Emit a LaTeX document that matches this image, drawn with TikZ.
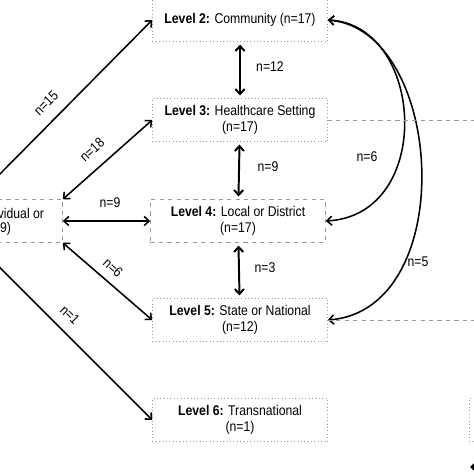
\documentclass[tikz,border=0pt]{standalone}
\usepackage{fontspec}
\setmainfont{Liberation Sans}[FakeStretch=0.87]
\usetikzlibrary{arrows.meta}

\begin{document}
\begin{tikzpicture}[x=0.025cm, y=-0.025cm,
    box/.style={rectangle, minimum width=4.375cm, minimum height=1.075cm, align=center, inner sep=1pt, font=\fontsize{10}{11.5}\selectfont},
    dotbox/.style={box, draw=gray!80, dotted},
    dashbox/.style={box, draw=gray!80, dashed},
    lab/.style={font=\fontsize{10}{11.5}\selectfont},
    arrow/.style={{Straight Barb[length=3.5pt,width=6.5pt]}-{Straight Barb[length=3.5pt,width=6.5pt]}, line width=1.1pt},
    oneway/.style={-{Straight Barb[length=3.5pt,width=6.5pt]}, line width=1.1pt},
    link/.style={dashed, draw=gray!80, line width=0.6pt}
]
\useasboundingbox (0,0) rectangle (474,474);

% Levels
\node[dotbox] (l2) at (240,20) {\textbf{Level 2:} Community (n=17)};
\node[dotbox] (l3) at (240,120) {\textbf{Level 3:} Healthcare Setting\\(n=17)};
\node[dashbox] (l4) at (238,221) {\textbf{Level 4:} Local or District\\(n=17)};
\node[dotbox] (l5) at (240,320) {\textbf{Level 5:} State or National\\(n=12)};
\node[dotbox] (l6) at (240,420) {\textbf{Level 6:} Transnational\\(n=1)};

% Level 1 (cut off at the left)
\node[dashbox] (l1) at (-25,221) {};
\node[lab, anchor=east] (l1a) at (49,213) {Individual or};
\node[lab, anchor=east] (l1b) at (16,229) {(n=19)};

% Box cut off at the right
\node[dotbox, anchor=west] (l7) at (469,420) {};

% From level 1
\draw[oneway] (l1.north) -- (l2.west);
\draw[arrow] (l1.north east) -- (l3.west);
\draw[arrow] (l1.east) -- (l4.west);
\draw[arrow] (l1.south east) -- (l5.west);
\draw[oneway] (l1.south) -- (l6.west);
\node[lab, rotate=45] (n15) at (46,103) {n=15};
\node[lab, rotate=42] (n18) at (92,150) {n=18};
\node[lab] (n9a) at (110,203) {n=9};
\node[lab, rotate=-42] (n6a) at (113,268) {n=6};
\node[lab, rotate=-45] (n1) at (70,315) {n=1};

% Between neighbouring levels
\draw[arrow, line width=1.4pt, shorten <=2pt, shorten >=2pt] (l2) -- (l3);
\draw[arrow, line width=1.4pt, shorten <=2pt, shorten >=2pt] (l3) -- (l4);
\draw[arrow, line width=1.4pt, shorten <=2pt, shorten >=2pt] (l4) -- (l5);
\node[lab] (n12) at (270,67) {n=12};
\node[lab] (n9b) at (268,167) {n=9};
\node[lab] (n3) at (265,268) {n=3};

% Curved links
\draw[arrow] (l2.east) .. controls (425,25) and (435,215) .. (l4.east);
\draw[arrow] (l2.east) .. controls (445,30) and (460,310) .. (l5.east);
\node[lab] (n6b) at (367,157) {n=6};
\node[lab] (n5) at (418,262) {n=5};

% Dashed links to the right
\coordinate (r3) at (480,120);
\coordinate (r5) at (480,320);
\draw[link] (l3.east) -- (r3);
\draw[link] (l5.east) -- (r5);

% Arrow at the bottom right
\coordinate (r8) at (480,467);
\coordinate (t8) at (470,467);
\draw[oneway] (r8) -- (t8);

\end{tikzpicture}
\end{document}
